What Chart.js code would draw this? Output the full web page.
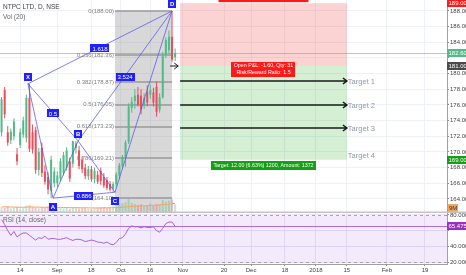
<!DOCTYPE html>
<html>
<head>
<meta charset="utf-8">
<script src="https://cdn.jsdelivr.net/npm/chart.js@4.4.0/dist/chart.umd.min.js"></script>
<style>
  html, body { margin: 0; padding: 0; background: #fff; }
  #wrap { position: relative; width: 466px; height: 275px; overflow: hidden; }
  #price { position: absolute; left: 0; top: 0; }
  #rsi { position: absolute; left: 0; top: 213px; }
</style>
</head>
<body>
<div id="wrap">
  <canvas id="price" width="466" height="213" style="width:466px;height:213px"></canvas>
  <canvas id="rsi" width="466" height="62" style="width:466px;height:62px"></canvas>
</div>
<script>
// daily candles, NTPC, early Aug -> end Oct 2017 (one entry per trading day)
var opens  = [172.5,177.9,172.5,171.5,172.0,169.7,170.9,172.2,171.8,176.9,172.5,172.8,167.7,170.5,167.5,166.8,165.0,166.0,166.0,166.6,167.3,168.0,168.8,168.5,170.5,170.2,169.0,168.0,166.9,167.8,166.5,167.1,167.6,166.8,166.4,165.9,165.3,165.9,167.0,168.2,169.3,171.3,175.6,176.5,177.3,177.2,176.0,177.7,177.3,177.6,178.3,175.4,177.0,182.4,183.0,184.7,182.1];
var highs  = [177.0,178.3,173.3,173.0,174.3,170.5,173.0,174.5,177.3,178.7,173.5,173.2,170.5,171.2,168.3,167.4,169.5,168.0,167.5,169.2,170.0,170.6,169.3,171.3,171.4,170.8,169.4,168.5,168.2,168.2,168.0,167.6,168.0,167.3,166.8,166.3,166.2,167.4,168.6,169.6,171.5,176.2,177.0,178.0,178.3,178.0,177.5,178.5,178.6,178.2,179.0,177.5,182.8,184.6,185.5,188.0,183.2];
var lows   = [172.0,174.3,170.8,171.0,171.5,168.3,170.5,171.8,171.2,170.0,169.8,167.2,167.0,166.8,165.8,164.6,164.1,165.5,165.5,166.2,167.0,167.6,166.2,168.0,169.8,167.8,167.3,166.5,166.4,166.2,166.0,165.9,165.8,165.4,165.1,164.95,164.85,165.6,166.5,167.8,168.1,171.0,175.0,175.5,175.8,174.8,175.5,175.8,176.8,175.8,174.5,175.0,176.8,182.0,182.5,181.5,181.6];
var closes = [176.7,174.8,171.2,172.6,173.9,168.8,172.5,174.0,176.9,170.4,170.3,167.7,170.0,167.3,166.2,165.2,169.0,167.5,167.0,168.8,169.6,170.2,166.6,171.4,171.1,168.2,167.8,166.9,167.8,166.5,167.6,166.2,166.3,165.7,165.4,165.2,165.9,167.1,168.3,169.4,171.2,175.8,176.4,177.2,176.0,175.4,176.9,176.3,177.9,176.3,175.1,177.0,182.4,184.3,184.7,181.8,182.6];
// volume in millions and its 20-day average
var volumes  = [4.2,3.8,5.1,3.5,3.9,4.6,3.2,3.7,5.5,6.0,4.8,4.1,3.6,4.4,3.9,4.8,5.6,3.7,3.3,3.9,3.5,4.0,3.1,3.8,4.2,3.4,3.6,4.1,3.3,3.0,3.5,3.9,4.3,4.6,3.8,4.4,5.0,4.7,6.2,7.4,8.1,10.5,7.6,6.8,6.1,6.6,5.4,6.0,7.2,5.8,6.9,6.3,9.8,8.7,9.4,10.2,6.5];
var volumeMA = [4.6,4.6,4.5,4.5,4.4,4.4,4.3,4.3,4.4,4.5,4.5,4.4,4.4,4.3,4.3,4.3,4.4,4.3,4.2,4.2,4.1,4.1,4.0,4.0,4.0,3.9,3.9,3.9,3.9,3.8,3.8,3.8,3.8,3.9,3.9,3.9,4.0,4.0,4.1,4.3,4.5,4.8,5.0,5.1,5.2,5.3,5.4,5.5,5.7,5.8,5.9,6.0,6.3,6.5,6.8,7.1,7.2];
// RSI(14)
var rsiValues = [74,68,60,54,59,52,55,57,57,54,51,48,51,50,53,49,50,50,49,49,50,51,49,47.5,49,49,48,46,47,48,47,45.5,45,44,45.5,43,42,45,50,51,56,63,66,65,65,63.5,65,64,64,65,60,58,63,69,71,71,65.4753];

// time axis labels (bar positions, future bars continue the same spacing)
var xTickPos    = [6, 17.9, 28.9, 38.5, 47.9, 58.5, 71.8, 80.5, 91.4, 101.4, 111.4, 124.3, 136.6];
var xTickLabels = ['14','Sep','18','Oct','16','Nov','20','Dec','18','2018','15','Feb','19'];
var priceTicks  = [164,166,168,170,172,174,176,178,180,182,184,186,188];
var rsiTicks    = [20,40,60,80];

// XABCD pattern
var patternNames  = ['X','A','B','C','D'];
var patternBars   = [8.5, 16.6, 24.7, 36.6, 55];
var patternPrices = [178.7, 164.1, 171.4, 164.85, 188.0];
var ratioLabels   = ['0.5','0.886','3.524','1.618'];

// fib retracement C..D
var fibRatios = [0, 0.236, 0.382, 0.5, 0.618, 0.786, 1];
var fibHigh = 188.00, fibLow = 164.10;

// short position
var entryPrice = 181.00, stopPrice = 189.00, targetPrice = 169.00;
var targetNames  = ['Target 1','Target 2','Target 3','Target 4'];
var targetPrices = [179.1, 176.0, 173.06, 169.6];

var N = closes.length;
var X_MIN = -0.5, X_MAX = 143.7;
var PRICE_MIN = 162.2, PRICE_MAX = 189.4;
var RSI_MIN = 17.45, RSI_MAX = 82.55;
var FONT = '"Liberation Sans", Arial, sans-serif';
var UP = '#53b987', DOWN = '#eb4d5c';

// drawing spans (bar units)
var FIB_FROM = 36.6, FIB_TO = 55.0;
var POS_FROM = 57.6, POS_TO = 111.4;

var isUp = closes.map(function(c, i) { return c >= opens[i]; });

var datasets = [];
datasets.push({
  type: 'bar', yAxisID: 'yVol', order: 9, grouped: false, maxBarThickness: 2,
  data: volumes.map(function(v, i) { return {x: i, y: v}; }),
  backgroundColor: isUp.map(function(u) { return u ? 'rgba(83,185,135,0.35)' : 'rgba(235,77,92,0.35)'; })
});
datasets.push({
  type: 'line', yAxisID: 'yVol', order: 8,
  data: volumeMA.map(function(v, i) { return {x: i, y: v}; }),
  borderColor: '#f7a35c', borderWidth: 1, pointRadius: 0
});
datasets.push({
  type: 'bar', yAxisID: 'y', order: 7, grouped: false, maxBarThickness: 1,
  data: lows.map(function(l, i) { return {x: i, y: [l, highs[i]]}; }),
  backgroundColor: isUp.map(function(u) { return u ? UP : DOWN; })
});
datasets.push({
  type: 'bar', yAxisID: 'y', order: 6, grouped: false, maxBarThickness: 2,
  data: opens.map(function(o, i) { return {x: i, y: [o, closes[i]]}; }),
  backgroundColor: isUp.map(function(u) { return u ? UP : DOWN; })
});

var segs = [[0,1],[1,2],[2,3],[3,4],[0,2],[1,3],[2,4],[0,4]];
segs.forEach(function(s) {
  datasets.push({
    type: 'line', yAxisID: 'y', order: 1,
    data: [{x: patternBars[s[0]], y: patternPrices[s[0]]}, {x: patternBars[s[1]], y: patternPrices[s[1]]}],
    borderColor: 'rgba(85,85,235,0.75)', borderWidth: 1, pointRadius: 0
  });
});

function tag(ctx, x, y, text, bg) {
  ctx.fillStyle = bg;
  ctx.fillRect(x, Math.round(y) - 4, 19, 8);
  ctx.fillStyle = '#fff';
  ctx.font = '6px ' + FONT;
  ctx.textAlign = 'left';
  ctx.textBaseline = 'middle';
  ctx.fillText(text, x + 1.5, Math.round(y) + 0.5);
}

function box(ctx, cx, cy, text, bg, font) {
  ctx.font = font;
  var w = ctx.measureText(text).width + 4;
  ctx.fillStyle = bg;
  ctx.fillRect(Math.round(cx - w / 2), Math.round(cy - 4), Math.round(w), 8);
  ctx.fillStyle = '#fff';
  ctx.textAlign = 'center';
  ctx.textBaseline = 'middle';
  ctx.fillText(text, cx, cy + 0.5);
}

function arrow(ctx, x1, x2, y) {
  ctx.beginPath();
  ctx.moveTo(x1, y); ctx.lineTo(x2, y);
  ctx.moveTo(x2 - 4, y - 3); ctx.lineTo(x2, y); ctx.lineTo(x2 - 4, y + 3);
  ctx.stroke();
}

var overlay = {
  id: 'overlay',
  beforeDatasetsDraw: function(chart) {
    var ctx = chart.ctx, xs = chart.scales.x, ys = chart.scales.y, a = chart.chartArea;
    ctx.save();
    // fib box
    var f1 = xs.getPixelForValue(FIB_FROM), f2 = xs.getPixelForValue(FIB_TO);
    var fTop = ys.getPixelForValue(fibHigh);
    ctx.fillStyle = 'rgba(125,125,125,0.3)';
    ctx.fillRect(f1, fTop, f2 - f1, a.bottom - fTop);
    ctx.strokeStyle = '#9a9a9a';
    ctx.lineWidth = 1.5;
    fibRatios.forEach(function(r) {
      var y = Math.round(ys.getPixelForValue(fibHigh - r * (fibHigh - fibLow)));
      ctx.beginPath(); ctx.moveTo(f1, y); ctx.lineTo(f2, y); ctx.stroke();
    });
    // position boxes
    var p1 = xs.getPixelForValue(POS_FROM), p2 = xs.getPixelForValue(POS_TO);
    var yS = ys.getPixelForValue(stopPrice), yE = ys.getPixelForValue(entryPrice), yT = ys.getPixelForValue(targetPrice);
    ctx.fillStyle = 'rgba(245,80,80,0.25)';
    ctx.fillRect(p1, yS, p2 - p1, yE - yS);
    ctx.fillStyle = 'rgba(60,180,60,0.22)';
    ctx.fillRect(p1, yE, p2 - p1, yT - yE);
    // last price line
    var yL = Math.round(ys.getPixelForValue(closes[N - 1])) + 0.5;
    ctx.strokeStyle = 'rgba(83,185,135,0.55)';
    ctx.lineWidth = 1;
    ctx.beginPath(); ctx.moveTo(a.left, yL); ctx.lineTo(a.right, yL); ctx.stroke();
    ctx.restore();
  },
  afterDatasetsDraw: function(chart) {
    var ctx = chart.ctx, xs = chart.scales.x, ys = chart.scales.y, a = chart.chartArea;
    ctx.save();
    // fib labels
    var f1 = xs.getPixelForValue(FIB_FROM);
    ctx.font = '6px ' + FONT;
    ctx.fillStyle = '#808080';
    ctx.textAlign = 'right';
    ctx.textBaseline = 'middle';
    fibRatios.forEach(function(r) {
      var v = fibHigh - r * (fibHigh - fibLow);
      ctx.fillText(r + '(' + v.toFixed(2) + ')', f1 - 1, ys.getPixelForValue(v));
    });
    // position: targets
    var p1 = xs.getPixelForValue(POS_FROM), p2 = xs.getPixelForValue(POS_TO);
    ctx.strokeStyle = '#1a1a1a';
    ctx.lineWidth = 1.5;
    targetPrices.forEach(function(t, i) {
      var y = Math.round(ys.getPixelForValue(t));
      if (i < 3) arrow(ctx, p1, p2, y);
      ctx.font = '7.5px ' + FONT;
      ctx.fillStyle = '#8d99ab';
      ctx.textAlign = 'left';
      ctx.textBaseline = 'middle';
      ctx.fillText(targetNames[i], p2 + 1, y + 0.5);
    });
    // entry arrow
    var yE = Math.round(ys.getPixelForValue(entryPrice));
    ctx.lineWidth = 1;
    arrow(ctx, xs.getPixelForValue(54.4), xs.getPixelForValue(57.0), yE);
    // stop label (cut at the top)
    var pc = (p1 + p2) / 2;
    ctx.fillStyle = '#ff1a1a';
    ctx.fillRect(pc - 45, ys.getPixelForValue(stopPrice) - 11, 90, 10);
    // P&L box
    ctx.font = '5.3px ' + FONT;
    var l1 = 'Open P&L: -1.60, Qty: 31', l2 = 'Risk/Reward Ratio: 1.5';
    var bw = Math.round(Math.max(ctx.measureText(l1).width, ctx.measureText(l2).width) + 5);
    ctx.fillStyle = '#ff1a1a';
    ctx.fillRect(Math.round(pc - bw / 2), yE - 4, bw, 15);
    ctx.fillStyle = '#fff';
    ctx.textAlign = 'center';
    ctx.textBaseline = 'middle';
    ctx.fillText(l1, pc, yE);
    ctx.fillText(l2, pc, yE + 7);
    // target box
    var yT = Math.round(ys.getPixelForValue(targetPrice));
    var l3 = 'Target: 12.00 (6.63%) 1200, Amount: 1372';
    var tw = Math.round(ctx.measureText(l3).width + 5);
    ctx.fillStyle = '#14a014';
    ctx.fillRect(Math.round(pc - tw / 2), yT + 1, tw, 9);
    ctx.fillStyle = '#fff';
    ctx.fillText(l3, pc, yT + 6);
    // pattern ratio labels at segment midpoints
    [[0,2],[1,3],[2,4],[0,4]].forEach(function(s, k) {
      var mx = (xs.getPixelForValue(patternBars[s[0]]) + xs.getPixelForValue(patternBars[s[1]])) / 2;
      var my = (ys.getPixelForValue(patternPrices[s[0]]) + ys.getPixelForValue(patternPrices[s[1]])) / 2;
      box(ctx, mx, my + 1, ratioLabels[k], '#2020ff', '6px ' + FONT);
    });
    // pattern point labels
    patternNames.forEach(function(n, i) {
      var px = xs.getPixelForValue(patternBars[i]);
      var py = ys.getPixelForValue(patternPrices[i]);
      var high = (i % 2 === 0);
      box(ctx, px, high ? py - 7 : py + 9, n, '#2020ff', 'bold 6px ' + FONT);
    });
    // header
    ctx.textAlign = 'left';
    ctx.textBaseline = 'middle';
    ctx.font = '6.5px ' + FONT;
    ctx.fillStyle = '#444';
    ctx.fillText('NTPC LTD, D, NSE', 3, 7);
    ctx.fillStyle = '#666';
    ctx.fillText('Vol (20)', 3, 17);
    ctx.restore();
  },
  afterDraw: function(chart) {
    var ctx = chart.ctx, ys = chart.scales.y, a = chart.chartArea;
    ctx.save();
    tag(ctx, a.right, ys.getPixelForValue(stopPrice), stopPrice.toFixed(2), '#ff1a1a');
    tag(ctx, a.right, ys.getPixelForValue(closes[N - 1]), closes[N - 1].toFixed(2), '#53b987');
    tag(ctx, a.right, ys.getPixelForValue(entryPrice), entryPrice.toFixed(2), '#4a4a4a');
    tag(ctx, a.right, ys.getPixelForValue(targetPrice), targetPrice.toFixed(2), '#14a014');
    ctx.fillStyle = '#f5a45f';
    ctx.fillRect(a.right + 1, a.bottom - 9, 10, 8);
    ctx.fillStyle = '#333';
    ctx.font = '6px ' + FONT;
    ctx.textAlign = 'left';
    ctx.textBaseline = 'middle';
    ctx.fillText('9M', a.right + 2, a.bottom - 4.5);
    // pane separator
    ctx.fillStyle = '#c4c4c4';
    ctx.fillRect(0, a.bottom - 1.5, chart.width, 1.5);
    ctx.restore();
  }
};

new Chart(document.getElementById('price'), {
  type: 'line',
  data: { datasets: datasets },
  options: {
    responsive: false, animation: false, devicePixelRatio: 1,
    layout: { padding: 0 },
    plugins: { legend: { display: false }, tooltip: { enabled: false } },
    scales: {
      x: {
        type: 'linear', min: X_MIN, max: X_MAX, offset: false,
        grid: { color: '#eef1f6', drawTicks: false, offset: false },
        border: { display: false },
        ticks: { display: false },
        afterBuildTicks: function(s) { s.ticks = xTickPos.map(function(v) { return {value: v}; }); },
        afterFit: function(s) { s.height = 0; s.paddingLeft = 0; s.paddingRight = 0; }
      },
      y: {
        position: 'right', min: PRICE_MIN, max: PRICE_MAX,
        grid: { color: '#eef1f6', tickLength: 2, tickColor: '#888' },
        border: { color: '#a0a0a0' },
        ticks: {
          font: { size: 6, family: FONT }, color: '#444', padding: 1,
          callback: function(v) { return v === 182 ? '' : v.toFixed(2); }
        },
        afterBuildTicks: function(s) { s.ticks = priceTicks.map(function(v) { return {value: v}; }); },
        afterFit: function(s) { s.width = 19; s.paddingTop = 0; s.paddingBottom = 0; }
      },
      yVol: { display: false, min: 0, max: 160 }
    }
  },
  plugins: [overlay]
});

var rsiOverlay = {
  id: 'rsiOverlay',
  beforeDatasetsDraw: function(chart) {
    var ctx = chart.ctx, ys = chart.scales.y, a = chart.chartArea;
    var y80 = Math.round(ys.getPixelForValue(80)) + 0.5, y20 = Math.round(ys.getPixelForValue(20)) + 0.5;
    ctx.save();
    ctx.fillStyle = 'rgba(165,95,230,0.13)';
    ctx.fillRect(a.left, y80, a.right - a.left, y20 - y80);
    ctx.strokeStyle = '#a9a0b3';
    ctx.lineWidth = 1;
    ctx.setLineDash([3, 3]);
    ctx.beginPath();
    ctx.moveTo(a.left, y80); ctx.lineTo(a.right, y80);
    ctx.moveTo(a.left, y20); ctx.lineTo(a.right, y20);
    ctx.stroke();
    ctx.setLineDash([]);
    var yl = Math.round(ys.getPixelForValue(rsiValues[N - 1])) + 0.5;
    ctx.strokeStyle = 'rgba(150,70,200,0.75)';
    ctx.beginPath(); ctx.moveTo(a.left, yl); ctx.lineTo(a.right, yl); ctx.stroke();
    ctx.restore();
  },
  afterDraw: function(chart) {
    var ctx = chart.ctx, ys = chart.scales.y, a = chart.chartArea;
    ctx.save();
    ctx.font = '6.5px ' + FONT;
    ctx.fillStyle = '#666';
    ctx.textAlign = 'left';
    ctx.textBaseline = 'middle';
    ctx.fillText('RSI (14, close)', 3, 7);
    tag(ctx, a.right, ys.getPixelForValue(rsiValues[N - 1]), rsiValues[N - 1].toFixed(4), '#9a2fc0');
    ctx.restore();
  }
};

new Chart(document.getElementById('rsi'), {
  type: 'line',
  data: {
    datasets: [{
      data: rsiValues.map(function(v, i) { return {x: i, y: v}; }),
      borderColor: '#a65fd8', borderWidth: 1, pointRadius: 0, tension: 0
    }]
  },
  options: {
    responsive: false, animation: false, devicePixelRatio: 1,
    layout: { padding: 0 },
    plugins: { legend: { display: false }, tooltip: { enabled: false } },
    scales: {
      x: {
        type: 'linear', min: X_MIN, max: X_MAX, offset: false,
        grid: { color: '#ede8f3', tickLength: 2, tickColor: '#888' },
        border: { color: '#a0a0a0' },
        ticks: {
          font: { size: 6, family: FONT }, color: '#444', padding: 1, maxRotation: 0, autoSkip: false,
          callback: function(v) { var k = xTickPos.indexOf(v); return k >= 0 ? xTickLabels[k] : ''; }
        },
        afterBuildTicks: function(s) { s.ticks = xTickPos.map(function(v) { return {value: v}; }); },
        afterFit: function(s) { s.height = 11; s.paddingLeft = 0; s.paddingRight = 0; }
      },
      y: {
        position: 'right', min: RSI_MIN, max: RSI_MAX,
        grid: { color: '#ece4f4', tickLength: 2, tickColor: '#888' },
        border: { color: '#a0a0a0' },
        ticks: {
          font: { size: 6, family: FONT }, color: '#444', padding: 1,
          callback: function(v) { return v === 60 ? '' : v.toFixed(4); }
        },
        afterBuildTicks: function(s) { s.ticks = rsiTicks.map(function(v) { return {value: v}; }); },
        afterFit: function(s) { s.width = 19; s.paddingTop = 0; s.paddingBottom = 0; }
      }
    }
  },
  plugins: [rsiOverlay]
});
</script>
</body>
</html>
